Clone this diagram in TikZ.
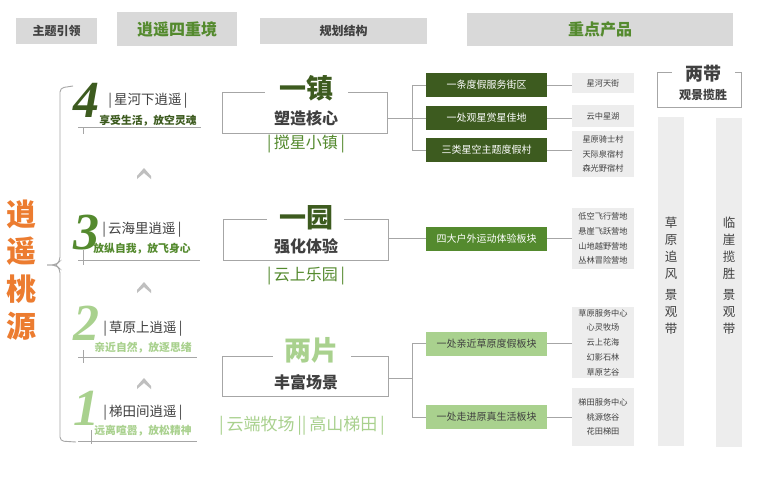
\documentclass[tikz,border=0pt]{standalone}
\usepackage{fontspec}
\setmainfont{Noto Sans CJK SC}
\newfontfamily\numfont{Liberation Serif}
\usetikzlibrary{calc}
\definecolor{dkgreen}{HTML}{3D5B1F}
\definecolor{mdgreen}{HTML}{548A2E}
\definecolor{ltgreen}{HTML}{A9D18E}
\definecolor{orangec}{HTML}{EC7C30}
\definecolor{hdrgray}{HTML}{D9D9D9}
\definecolor{boxgray}{HTML}{EDEDED}
\definecolor{linegray}{HTML}{A6A6A6}
\definecolor{txtgray}{HTML}{404040}
\definecolor{chevgray}{HTML}{BFBFBF}
\tikzset{
  hdr/.style={fill=hdrgray, inner sep=0pt, font=\fontsize{12}{12}\selectfont\bfseries, text=txtgray},
  gbox/.style={fill=#1, inner sep=0pt, minimum width=121pt, minimum height=24pt, font=\fontsize{10}{10}\selectfont},
  pbox/.style={fill=boxgray, inner sep=0pt, minimum width=62pt, align=center, font=\fontsize{8.2}{14.8}\selectfont, text=txtgray},
  conn/.style={draw=linegray, line width=0.8pt},
  frame/.style={draw=linegray, line width=0.9pt},
  numtxt/.style={font=\numfont\fontsize{52}{52}\selectfont\bfseries\itshape},
  rowtitle/.style={font=\fontsize{13.5}{13.5}\selectfont, text=txtgray},
  rowsub/.style={font=\fontsize{10.8}{10.8}\selectfont\bfseries},
  bigcal/.style={font=\fontsize{27}{27}\selectfont\bfseries},
  midtitle/.style={font=\fontsize{16}{16}\selectfont\bfseries, text=txtgray},
  midsub/.style={font=\fontsize{16}{16}\selectfont},
  chev/.style={fill=chevgray, draw=none},
  colbox/.style={fill=boxgray, inner sep=0pt, minimum width=26pt, minimum height=329pt},
  coltxt/.style={align=center, font=\fontsize{12.5}{17}\selectfont, text=txtgray}
}
\begin{document}
\begin{tikzpicture}[x=1pt,y=-1pt]
\useasboundingbox (0,0) rectangle (760,479);
\fill[white] (0,0) rectangle (760,479);

% header
\node[hdr, minimum width=81pt, minimum height=26pt] (h1) at (56.5,31) {主题引领};
\node[hdr, minimum width=120pt, minimum height=34pt, text=mdgreen, font=\fontsize{16}{16}\selectfont\bfseries] (h2) at (177,29) {逍遥四重境};
\node[hdr, minimum width=167pt, minimum height=26pt] (h3) at (343.5,30.5) {规划结构};
\node[hdr, minimum width=266pt, minimum height=33pt, text=mdgreen, font=\fontsize{16}{16}\selectfont\bfseries] (h4) at (600,29.5) {重点产品};

% left title
\node[text=orangec, align=center, font=\fontsize{30}{37.5}\selectfont\bfseries] (ttl) at (21,270) {逍\\遥\\桃\\源};

% brace
\draw[frame, rounded corners=4] (73,86) -- (60,88) -- (60,261) -- (56,265) -- (47,265);
\draw[frame, rounded corners=4] (47,265) -- (56,265) -- (60,269) -- (60,441) -- (76,442);

% row 4
\node[numtxt, text=dkgreen] (n4) at (86,100) {4};
\node[rowtitle] (r4t) at (148,101) {|\,星河下逍遥\,|};
\node[rowsub, text=dkgreen] (r4s) at (148,121) {享受生活，放空灵魂};
\draw[frame] (78,127) -- (201,127);
\draw[frame] (83,127) -- (83,134);
\fill[chev] (137,176) -- (144,168) -- (151,176) -- (151,179) -- (144,173) -- (137,179) -- cycle;

% row 3
\node[numtxt, text=mdgreen] (n3) at (86,233) {3};
\node[rowtitle] (r3t) at (142,230) {|\,云海里逍遥\,|};
\node[rowsub, text=mdgreen] (r3s) at (142,249) {放纵自我，放飞身心};
\draw[frame] (78,260) -- (200,260);
\draw[frame] (83,250) -- (83,265);
\fill[chev] (137,290) -- (144,282) -- (151,290) -- (151,293) -- (144,287) -- (137,293) -- cycle;

% row 2
\node[numtxt, text=ltgreen] (n2) at (86,323) {2};
\node[rowtitle] (r2t) at (143,329) {|\,草原上逍遥\,|};
\node[rowsub, text=ltgreen] (r2s) at (143,348) {亲近自然，放逐思绪};
\draw[frame] (78,357) -- (197,357);
\draw[frame] (83,350) -- (83,363);
\fill[chev] (137,386) -- (144,378) -- (151,386) -- (151,389) -- (144,383) -- (137,389) -- cycle;

% row 1
\node[numtxt, text=ltgreen] (n1) at (86,408) {1};
\node[rowtitle] (r1t) at (143,413) {|\,梯田间逍遥\,|};
\node[rowsub, text=ltgreen] (r1s) at (143,431) {远离喧嚣，放松精神};
\draw[frame] (78,441) -- (197,441);
\draw[frame] (91,430) -- (91,444);

% middle boxes
\node[inner sep=0pt, minimum width=164pt, minimum height=40pt] (b1) at (305,113) {};
\draw[frame] ($(b1.north west)+(42,0)$) -- (b1.north west) -- (b1.south west) -- (b1.south east) -- (b1.north east) -- ($(b1.north east)+(-39,0)$);
\node[bigcal, text=dkgreen] (b1c) at (306,88) {一镇};
\node[midtitle] (b1t) at (306,118) {塑造核心};
\node[midsub, text=mdgreen] (b1s) at (306,144) {|\,搅星小镇\,|};

\node[inner sep=0pt, minimum width=164pt, minimum height=40pt] (b2) at (306,240) {};
\draw[frame] ($(b2.north west)+(43,0)$) -- (b2.north west) -- (b2.south west) -- (b2.south east) -- (b2.north east) -- ($(b2.north east)+(-44,0)$);
\node[bigcal, text=dkgreen] (b2c) at (306,218) {一园};
\node[midtitle] (b2t) at (306,246) {强化体验};
\node[midsub, text=mdgreen] (b2s) at (306,276) {|\,云上乐园\,|};

\node[inner sep=0pt, minimum width=165pt, minimum height=39pt] (b3) at (305.5,376.5) {};
\draw[frame] ($(b3.north west)+(50,0)$) -- (b3.north west) -- (b3.south west) -- (b3.south east) -- (b3.north east) -- ($(b3.north east)+(-37,0)$);
\node[bigcal, text=ltgreen] (b3c) at (311,350) {两片};
\node[midtitle] (b3t) at (306,382) {丰富场景};
\node[font=\fontsize{17}{17}\selectfont, text=ltgreen] (b3s) at (302,426) {|\,云端牧场\,||\,高山梯田\,|};

% green boxes
\node[gbox=dkgreen, text=white] (gA) at (486.5,85) {一条度假服务街区};
\node[gbox=dkgreen, text=white] (gB) at (486.5,118) {一处观星赏星佳地};
\node[gbox=dkgreen, text=white] (gC) at (486.5,150) {三类星空主题度假村};
\node[gbox=mdgreen, text=white] (gD) at (486.5,238.5) {四大户外运动体验板块};
\node[gbox=ltgreen, text=txtgray] (gE) at (486.5,343.5) {一处亲近草原度假板块};
\node[gbox=ltgreen, text=txtgray] (gF) at (486.5,417) {一处走进原真生活板块};

% product boxes
\node[pbox, minimum height=20pt] (pA) at (603,83) {星河天街};
\node[pbox, minimum height=22pt] (pB) at (603,116) {云中星湖};
\node[pbox, minimum height=46pt] (pC) at (603,154) {星原骑士村\\天际泉宿村\\森光野宿村};
\node[pbox, minimum height=61pt] (pD) at (603,238.5) {低空飞行营地\\悬崖飞跃营地\\山地越野营地\\丛林冒险营地};
\node[pbox, minimum height=71pt] (pE) at (603,342.5) {草原服务中心\\心灵牧场\\云上花海\\幻影石林\\草原艺谷};
\node[pbox, minimum height=58pt] (pF) at (603,417) {梯田服务中心\\桃源悠谷\\花田梯田};

% connectors
\coordinate (br1) at (412,0);
\coordinate (br2) at (412,0);
\draw[conn] (b1.east |- gB.west) -- (gB.west);
\draw[conn] (gA.west) -- (gA.west -| br1) -- (gC.west -| br1) -- (gC.west);
\draw[conn] (b2.east |- gD.west) -- (gD.west);
\draw[conn] (b3.east |- 0,378) -- (br2 |- 0,378);
\draw[conn] (gE.west) -- (gE.west -| br2) -- (gF.west -| br2) -- (gF.west);
\draw[conn] (gA.east) -- (gA.east -| pA.west);
\draw[conn] (gB.east) -- (gB.east -| pB.west);
\draw[conn] (gC.east) -- (gC.east -| pC.west);
\draw[conn] (gD.east) -- (gD.east -| pD.west);
\draw[conn] (gE.east) -- (gE.east -| pE.west);
\draw[conn] (gF.east) -- (gF.east -| pF.west);

% right section
\node[inner sep=0pt, minimum width=83pt, minimum height=34pt] (lb) at (699.5,90) {};
\draw[frame] ($(lb.north west)+(14,0)$) -- (lb.north west) -- (lb.south west) -- (lb.south east) -- (lb.north east) -- ($(lb.north east)+(-6,0)$);
\node[font=\fontsize{18}{18}\selectfont\bfseries, text=txtgray] (lbc) at (703,74) {两带};
\node[font=\fontsize{12}{12}\selectfont\bfseries, text=txtgray] (lbt) at (703,95) {观景揽胜};

\node[colbox] (c1) at (671,281.5) {};
\node[colbox] (c2) at (729,282.5) {};
\node[coltxt] (c1t) at (671,276) {草\\原\\追\\风\\[4pt]景\\观\\带};
\node[coltxt] (c2t) at (729,276) {临\\崖\\揽\\胜\\[4pt]景\\观\\带};
\end{tikzpicture}
\end{document}
